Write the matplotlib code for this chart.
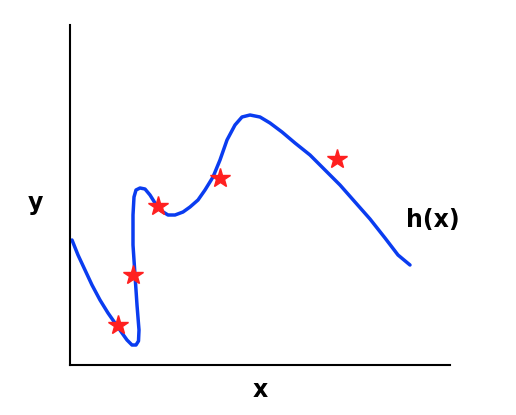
import matplotlib.pyplot as plt

# curve h(x) (axis units)
curve_x = [2, 8, 15, 22, 30, 38, 45, 52, 57, 62, 66, 68.5, 69, 67, 65, 63, 63, 64, 66, 70, 75, 80, 85, 90, 98, 105, 113, 120,
           128, 135, 143, 150, 157, 165, 172, 180, 190, 200, 212, 225, 240, 255, 270, 285, 300, 315, 328, 340]
curve_y = [125, 110, 95, 80, 65, 52, 42, 32, 25, 20, 20, 24, 35, 60, 90, 120, 150, 168, 175, 177, 176, 170, 162, 155, 150, 150,
           153, 158, 165, 175, 188, 205, 225, 240, 248, 250, 248, 242, 233, 222, 210, 195, 180, 163, 146, 127, 110, 100]
star_x = [48, 63, 88, 150, 267]
star_y = [40, 90, 159, 187, 206]

fig = plt.figure(figsize=(5.16, 4.15), dpi=100)
ax = fig.add_axes([70/516, 50/415, 380/516, 340/415])
ax.plot(curve_x, curve_y, color='#0a3cf0', lw=2.5, solid_capstyle='round', solid_joinstyle='round')
ax.plot(star_x, star_y, '*', color='#ff2020', ms=15, ls='none')
ax.set_xlim(0, 380)
ax.set_ylim(0, 340)
ax.set_xticks([])
ax.set_yticks([])
for s in ['top', 'right']:
    ax.spines[s].set_visible(False)
for s in ['left', 'bottom']:
    ax.spines[s].set_linewidth(1.5)

fig.text(35/516, 1 - 203/415, 'y', fontsize=17, fontweight='bold', ha='center', va='center')
fig.text(260/516, 1 - 390/415, 'x', fontsize=17, fontweight='bold', ha='center', va='center')
fig.text(433/516, 1 - 220/415, 'h(x)', fontsize=17, fontweight='bold', ha='center', va='center')

fig.savefig('out.png', dpi=100)
